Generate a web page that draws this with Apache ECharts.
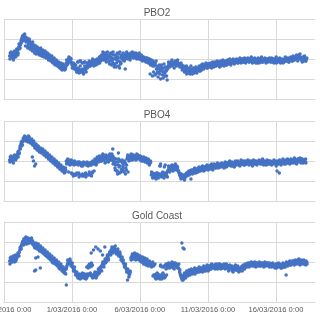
<!DOCTYPE html>
<html>
<head>
<meta charset="utf-8">
<script src="https://cdn.jsdelivr.net/npm/echarts@6/dist/echarts.min.js"></script>
<style>
  html, body { margin: 0; padding: 0; background: #fff; }
  #main { width: 320px; height: 320px; }
</style>
</head>
<body>
<div id="main"></div>
<script>
// readings from 25/02/2016 10:00 (x = days after 25/02 0:00), one block of
// 2 h steps; "a", "c" and "b" sit at +0, +30 and +60 min in each step
var startDay = 10 / 24;
var stepDay = 2 / 24;
var titles = ['PBO2', 'PBO4', 'Gold Coast'];

var pbo2a = [
  43,45,42,46,44,47,45,49,52,55, 58,61,63,60,62,58,59,56,57,54,
  55,52,50,53,48,50,47,49,46,48, 45,47,44,43,45,42,41,39,40,37,
  38,36,37,34,35,33,32,34,31,33, 36,38,40,39,37,34,33,35,31,29,
  28,30,27,29,28,26,30,29,33,35, 36,34,37,35,38,36,34,37,39,38,
  41,43,40,45,42,39,44,41,38,42, 45,36,40,33,43,46,38,31,41,44,
  39,42,44,41,45,43,42,46,44,43, 45,42,44,41,43,40,42,41,39,41,
  40,38,39,37,38,36,37,27,35,25, 33,22,30,28,34,24,31,26,29,19,
  33,36,35,37,34,36,38,35,37,34, 35,33,34,31,30,29,28,30,27,26,
  28,27,29,26,28,30,29,31,30,32, 31,33,32,34,33,32,34,33,35,34,
  33,35,34,36,35,34,36,35,37,36, 35,37,36,38,37,36,38,37,36,38,
  37,39,38,37,39,38,40,39,38,39, 38,40,39,38,40,39,38,37,39,38,
  40,39,37,38,39,40,38,39,37,38, 39,37,38,40,39,38,37,39,38,36,
  38,39,37,38,40,39,38,40,39,41, 40,39,42,41,43,40,42,41,39,40,
  41,39,40
];
var pbo2b = [
  46,42,45,41,47,43,48,46,50,54, 60,58,64,62,57,60,55,58,52,56,
  51,54,49,46,51,45,48,44,47,43, 46,43,46,41,43,40,42,37,38,35,
  36,34,35,32,33,30,34,31,29,32, 34,37,39,41,36,35,31,33,29,27,
  37,29,38,27,36,29,37,27,31,34, 33,37,35,38,34,39,37,35,40,36,
  43,39,44,41,46,40,43,37,45,40, 38,44,35,41,39,42,45,37,43,40,
  44,40,43,45,42,44,41,45,43,46, 43,41,42,45,40,43,39,42,40,38,
  41,37,40,36,39,35,38,33,36,30, 27,31,25,33,29,21,27,32,23,30,
  35,34,37,33,36,35,34,38,36,33, 34,32,31,33,29,27,30,26,29,28,
  26,29,27,30,27,29,31,28,32,29, 33,31,34,32,31,35,33,32,34,36,
  35,33,36,34,37,35,33,37,35,36, 37,34,38,36,35,37,39,36,38,37,
  38,36,37,40,38,37,39,37,40,38, 39,37,40,38,37,39,40,38,36,39,
  37,38,39,37,40,38,37,40,38,39, 38,40,37,39,38,36,39,40,37,39,
  39,37,40,38,39,41,37,39,40,38, 42,40,41,43,40,44,41,39,42,38,
  40,38
];
var pbo2c = [
  40,47,44,39,48,42,50,44,55,51, 56,63,59,65,58,61,53,60,50,55,
  57,49,53,45,52,47,44,51,43,49, 42,48,41,46,39,44,38,43,36,41,
  34,39,33,37,31,36,29,35,33,30, 39,35,42,37,40,31,36,30,34,27,
  31,26,33,28,30,25,33,31,36,32, 38,33,36,40,33,37,35,40,36,42,
  38,44,47,39,43,37,47,43,35,46, 41,47,32,44,36,41,33,47,36,42,
  46,38,41,47,40,45,39,44,47,41, 44,46,40,43,46,41,44,38,42,40,
  37,41,36,40,34,39,33,36,24,38, 30,26,34,20,31,27,35,23,28,32,
  37,32,34,39,35,31,37,33,39,35, 32,36,29,32,27,31,25,29,31,25,
  30,25,31,28,32,26,30,33,28,34, 35,30,33,36,31,35,32,36,31,37,
  32,37,33,38,34,32,38,34,39,33, 38,34,39,35,40,34,37,40,35,39,
  40,36,39,41,36,40,37,41,36,40, 41,37,39,42,36,40,41,36,39,41,
  36,40,42,37,39,41,36,40,38,41, 37,41,39,36,40,42,37,39,41,37,
  40,36,39,42,38,40,37,41,42,38, 43,39,41,44,38,42,45,40,37,41,
  43,38,41
];
// strays: [step index, value]
var pbo2Extra = [
  [14,53],[16,51],[18,50],[20,48],[22,46],[60,37],[62,38],[64,36],[66,37],
  [90,34],[94,32],[98,35],[102,30],[124,25],[126,23],[156,33],[160,33]
];

var pbo4a = [
  41,43,40,44,42,45,43,47,50,53, 57,60,63,61,64,62,63,60,61,58,
  59,56,55,53,54,51,52,50,51,48, 49,46,47,45,44,42,43,40,41,38,
  39,36,37,34,35,32,33,30,31,29, 40,38,41,39,37,40,38,36,39,37,
  27,38,26,37,36,25,38,28,37,36, 27,38,36,29,37,39,38,41,40,43,
  42,45,43,41,44,46,42,40,44,43, 41,45,38,33,42,30,36,28,40,32,
  35,29,38,31,44,42,45,43,46,44, 43,45,44,46,43,44,42,43,41,42,
  40,41,39,40,38,26,28,25,27,24, 26,25,27,35,24,26,28,25,27,29,
  31,33,34,32,35,33,36,34,32,30, 26,24,25,23,26,24,27,28,29,27,
  30,29,31,28,30,32,31,30,32,33, 31,33,32,34,33,32,34,35,33,34,
  35,34,33,35,36,34,35,36,37,35, 36,37,35,36,38,37,36,37,38,37,
  38,37,39,38,37,39,38,36,38,39, 38,39,37,38,40,39,38,39,37,38,
  39,38,40,39,37,38,39,37,38,40, 38,39,37,38,40,39,38,37,39,38,
  40,39,38,39,41,40,38,39,40,39, 41,39,40,38,41,42,40,39,41,38,
  40,39
];
var pbo4b = [
  44,40,43,41,45,42,46,44,48,52, 55,59,61,64,62,60,65,61,59,62,
  57,58,54,56,52,53,50,52,49,50, 47,48,45,46,43,44,41,42,39,40,
  37,38,35,36,33,34,31,32,29,31, 38,41,37,40,28,39,27,38,26,38,
  36,39,37,38,35,37,27,36,26,38, 37,26,39,38,30,40,37,42,39,44,
  40,43,46,42,39,45,41,44,47,42, 44,40,42,36,30,39,34,40,31,38,
  30,37,33,42,29,44,41,46,42,45, 44,42,46,43,45,41,44,40,43,39,
  42,38,41,37,39,27,24,26,23,28, 24,27,35,26,28,25,34,27,26,30,
  33,30,35,33,31,34,32,35,31,28, 25,27,23,25,22,27,25,29,26,30,
  28,31,29,30,32,29,33,31,30,34, 32,34,31,35,32,34,33,36,35,33,
  34,36,35,37,34,36,37,35,34,37, 38,35,37,39,36,38,35,38,36,39,
  37,39,36,38,39,37,40,38,37,38, 40,37,39,38,36,40,39,37,38,40,
  38,39,37,40,38,39,36,39,40,37, 39,37,38,40,37,39,37,38,40,36,
  38,40,39,37,40,38,39,41,38,40, 39,42,38,40,39,41,39,42,40,39,
  41,38
];
var pbo4c = [
  39,45,42,38,46,41,44,49,47,55, 59,56,62,65,60,63,59,64,58,60,
  56,60,53,57,51,55,49,53,48,52, 46,50,44,48,42,46,40,44,38,42,
  36,40,34,38,32,36,30,34,28,33, 37,42,39,36,41,37,25,40,37,28,
  39,24,38,35,27,39,37,24,39,35, 29,36,25,40,38,42,36,44,40,45,
  44,40,47,43,38,45,43,39,46,41, 47,37,43,31,39,27,42,35,29,41,
  33,40,27,36,46,40,44,47,41,46, 45,41,47,42,44,45,40,42,44,40,
  43,39,42,36,40,29,23,27,25,22, 28,23,26,37,25,29,23,36,28,24,
  35,29,32,36,30,33,37,31,34,29, 27,22,26,24,21,25,28,26,30,28,
  31,27,30,33,28,31,29,34,32,31, 35,30,34,33,36,31,35,32,37,31,
  37,33,36,38,33,37,34,38,36,33, 39,34,38,36,40,35,39,37,34,40,
  36,40,38,35,41,37,39,36,40,37, 41,36,40,38,35,41,37,40,36,39,
  41,37,38,42,36,40,38,41,37,39, 40,36,39,41,38,35,40,39,41,37,
  39,42,37,40,38,42,39,37,42,40, 38,43,41,37,42,40,43,38,42,41,
  39,42
];
var pbo4Extra = [
  [20,44],[21,40],[22,35],[23,37],[52,29],[55,27],[58,26],[61,28],[64,25],
  [67,27],[70,26],[73,28],[91,52],[96,48],[160,22],[236,30],[238,28]
];

var goldCoastA = [
  41,43,40,44,42,45,43,46,49,52, 55,58,61,59,63,60,62,61,63,60,
  58,59,56,57,55,56,53,54,52,50, 51,49,47,48,46,44,45,43,41,42,
  40,38,39,37,35,36,34,32,31,29, 33,38,41,40,39,37,34,32,30,28,
  26,25,27,24,26,28,25,27,24,26, 28,35,26,37,27,25,28,26,29,31,
  33,35,38,37,41,43,45,44,48,50, 52,51,54,53,50,52,49,47,45,43,
  40,38,36,33,31,29,28,44,46,45, 47,44,46,43,45,42,43,41,40,42,
  39,41,38,40,39,37,38,36,27,25, 28,26,24,36,27,25,35,26,33,35,
  37,36,38,35,37,39,36,38,37,34, 30,26,24,22,27,25,29,28,30,29,
  31,30,29,32,31,30,33,32,31,33, 32,34,33,31,34,35,33,36,34,35,
  36,34,35,37,35,36,34,36,35,37, 36,35,34,36,33,35,34,32,33,35,
  34,32,33,31,34,33,35,34,36,37, 38,37,36,38,37,39,38,37,36,38,
  37,39,38,37,38,36,38,37,39,38, 37,38,36,37,35,36,38,37,35,36,
  37,35,36,38,37,39,38,40,38,39, 40,38,39,41,39,40,38,41,39,40,
  38,40,39
];
var goldCoastB = [
  44,40,43,42,46,41,45,47,50,55, 57,60,63,58,61,64,59,62,60,62,
  60,56,58,54,57,53,55,51,53,49, 50,47,49,45,47,43,44,40,42,39,
  41,37,38,34,36,33,35,30,32,28, 36,40,39,41,38,35,33,31,29,26,
  27,24,26,28,25,27,24,26,28,36, 38,27,36,25,28,27,26,30,28,34,
  32,37,36,40,39,42,46,47,49,52, 53,50,55,51,49,53,47,48,44,41,
  39,37,34,32,30,27,30,45,43,47, 45,46,43,47,44,41,44,40,42,39,
  41,37,40,38,36,39,26,37,24,28, 25,27,23,26,35,28,24,37,27,36,
  35,38,36,39,34,36,38,35,37,33, 28,24,26,23,25,28,27,30,28,31,
  29,32,30,28,33,31,32,30,34,32, 34,31,35,33,32,36,34,33,37,35,
  34,37,36,33,38,35,37,34,36,35, 34,37,35,33,36,34,31,35,33,32,
  35,33,31,34,32,36,34,37,35,38, 36,39,37,38,39,36,38,39,37,37,
  38,36,39,37,36,39,37,38,36,39, 36,37,38,35,37,34,37,36,38,34,
  36,38,35,37,39,36,40,37,39,41, 38,41,40,39,42,38,41,39,40,42,
  39,41,38
];
var goldCoastC = [
  38,45,41,46,40,47,44,49,46,54, 53,60,57,63,65,58,64,59,61,64,
  61,57,54,59,53,58,51,56,50,54, 48,52,46,50,44,48,42,46,39,44,
  38,42,36,40,33,38,31,35,29,33, 35,42,38,43,36,39,31,35,27,30,
  24,28,23,26,29,24,28,23,27,34, 37,29,39,24,26,30,24,28,33,29,
  35,31,40,35,43,40,47,42,50,47, 55,49,52,56,48,51,46,50,42,45,
  42,35,38,30,33,25,31,42,48,43, 49,42,48,45,42,46,40,45,38,44,
  37,43,36,41,38,35,40,27,38,23, 29,24,27,37,23,29,36,25,38,34,
  39,34,37,40,36,33,39,36,34,38, 32,27,22,25,29,24,31,26,32,27,
  33,28,31,34,29,33,30,35,31,34, 30,36,32,34,37,31,36,33,38,34,
  37,33,38,35,34,38,33,37,34,38, 33,38,36,31,37,33,36,30,34,37,
  32,36,30,33,35,31,37,33,38,35, 39,35,38,40,36,38,40,35,39,36,
  40,36,37,39,35,40,36,39,38,35, 38,35,39,36,34,38,35,39,36,37,
  34,39,37,35,40,37,38,41,37,40, 41,37,42,38,40,43,37,42,38,41,
  41,37,40
];
var goldCoastExtra = [
  [23,44],[25,45],[22,31],[23,32],[27,34],[50,17],[68,35],[70,37],
  [72,49],[74,52],[76,55],[78,53],[80,51],[82,47],[84,55],[104,22],
  [152,59],[153,54],[154,53],[244,27]
];

var seriesA = [pbo2a, pbo4a, goldCoastA];
var seriesB = [pbo2b, pbo4b, goldCoastB];
var seriesC = [pbo2c, pbo4c, goldCoastC];
var seriesExtra = [pbo2Extra, pbo4Extra, goldCoastExtra];

function toPoints(a, b, c, extra) {
  var pts = [];
  a.forEach(function (v, i) { pts.push([startDay + i * stepDay, v]); });
  c.forEach(function (v, i) { pts.push([startDay + (i + 0.25) * stepDay, v]); });
  b.forEach(function (v, i) { pts.push([startDay + (i + 0.5) * stepDay, v]); });
  extra.forEach(function (e) { pts.push([startDay + e[0] * stepDay, e[1]]); });
  return pts;
}

function dayLabel(v) {
  var d = new Date(2016, 1, 25 + Math.round(v));
  var m = d.getMonth() + 1;
  return d.getDate() + '/' + (m < 10 ? '0' + m : m) + '/' + d.getFullYear() + ' 0:00';
}

var gridTops = [19, 121, 222];
var titleTops = [8, 110, 211];

var chart = echarts.init(document.getElementById('main'));

var option = {
  animation: false,
  title: titles.map(function (t, k) {
    return {
      text: t, left: 157, top: titleTops[k], textAlign: 'center', padding: 0,
      textStyle: { fontSize: 10, fontWeight: 'normal', color: '#595959', fontFamily: 'Liberation Sans' }
    };
  }),
  grid: gridTops.map(function (t) {
    return { left: 4, top: t, width: 311, height: 80, containLabel: false, outerBoundsMode: 'none' };
  }),
  xAxis: gridTops.map(function (t, k) {
    return {
      type: 'value', gridIndex: k, min: 0, max: 22.875, interval: 5,
      axisLine: { show: true, lineStyle: { color: '#d9d9d9' } },
      axisTick: { show: false },
      splitLine: { show: true, showMaxLine: false, lineStyle: { color: '#d9d9d9' } },
      axisLabel: {
        show: k === 2, showMaxLabel: false, showMinLabel: true, hideOverlap: false, margin: 4,
        fontSize: 7.6, color: '#595959', fontFamily: 'Liberation Sans',
        formatter: dayLabel
      }
    };
  }),
  yAxis: gridTops.map(function (t, k) {
    return {
      type: 'value', gridIndex: k, min: 0, max: 80, interval: 20,
      axisLine: { show: false }, axisTick: { show: false }, axisLabel: { show: false },
      splitLine: { show: true, lineStyle: { color: '#d9d9d9' } }
    };
  }),
  series: seriesA.map(function (a, k) {
    return {
      type: 'scatter', xAxisIndex: k, yAxisIndex: k,
      symbolSize: 3.5,
      itemStyle: { color: '#4472c4', opacity: 1 },
      data: toPoints(a, seriesB[k], seriesC[k], seriesExtra[k])
    };
  })
};

chart.setOption(option);
</script>
</body>
</html>
